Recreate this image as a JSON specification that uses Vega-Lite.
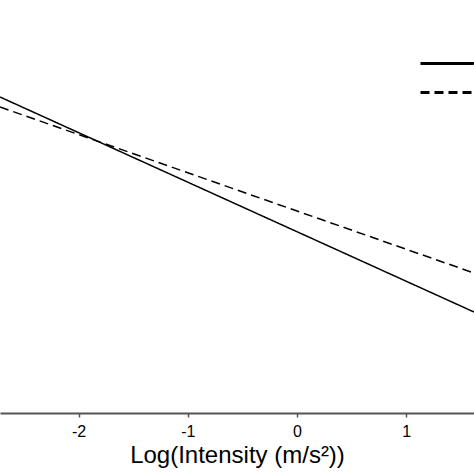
{
  "$schema": "https://vega.github.io/schema/vega-lite/v6.json",
  "autosize": "none",
  "padding": {"left": 0, "right": 0, "top": 0, "bottom": 61},
  "width": 474,
  "height": 413,
  "background": "white",
  "config": {"view": {"stroke": null}, "font": "Liberation Sans"},
  "data": {"values": [
    {"x": -2.72, "y": 3.16, "series": "Model 1"},
    {"x": 1.62, "y": 1.01, "series": "Model 1"},
    {"x": -2.72, "y": 3.06, "series": "Model 2"},
    {"x": 1.62, "y": 1.40, "series": "Model 2"}
  ]},
  "mark": {"type": "line", "color": "black", "strokeWidth": 1.5, "clip": true},
  "encoding": {
    "x": {"field": "x", "type": "quantitative",
      "scale": {"domain": [-2.72, 1.62], "nice": false, "zero": false},
      "axis": {"values": [-2, -1, 0, 1], "title": "Log(Intensity (m/s²))",
        "labelExpr": "'' + datum.value",
        "grid": false, "domainColor": "#555", "domainWidth": 2,
        "tickColor": "#555", "tickSize": 4, "tickWidth": 1.5,
        "labelFontSize": 16, "labelColor": "black", "labelPadding": 6,
        "titleFontSize": 24, "titleFontWeight": "normal", "titleColor": "black", "titlePadding": 4}},
    "y": {"field": "y", "type": "quantitative",
      "scale": {"domain": [0, 4.13], "nice": false}, "axis": null},
    "strokeDash": {"field": "series", "type": "nominal",
      "scale": {"range": [[1, 0], [9, 5]]},
      "legend": {"orient": "none", "legendX": 419, "legendY": 49, "padding": 0,
        "title": null, "symbolType": "stroke", "symbolSize": 3600,
        "symbolStrokeWidth": 3, "symbolStrokeColor": "black",
        "clipHeight": 29, "rowPadding": 0, "labelFontSize": 16, "labelOffset": 8}}
  }
}
